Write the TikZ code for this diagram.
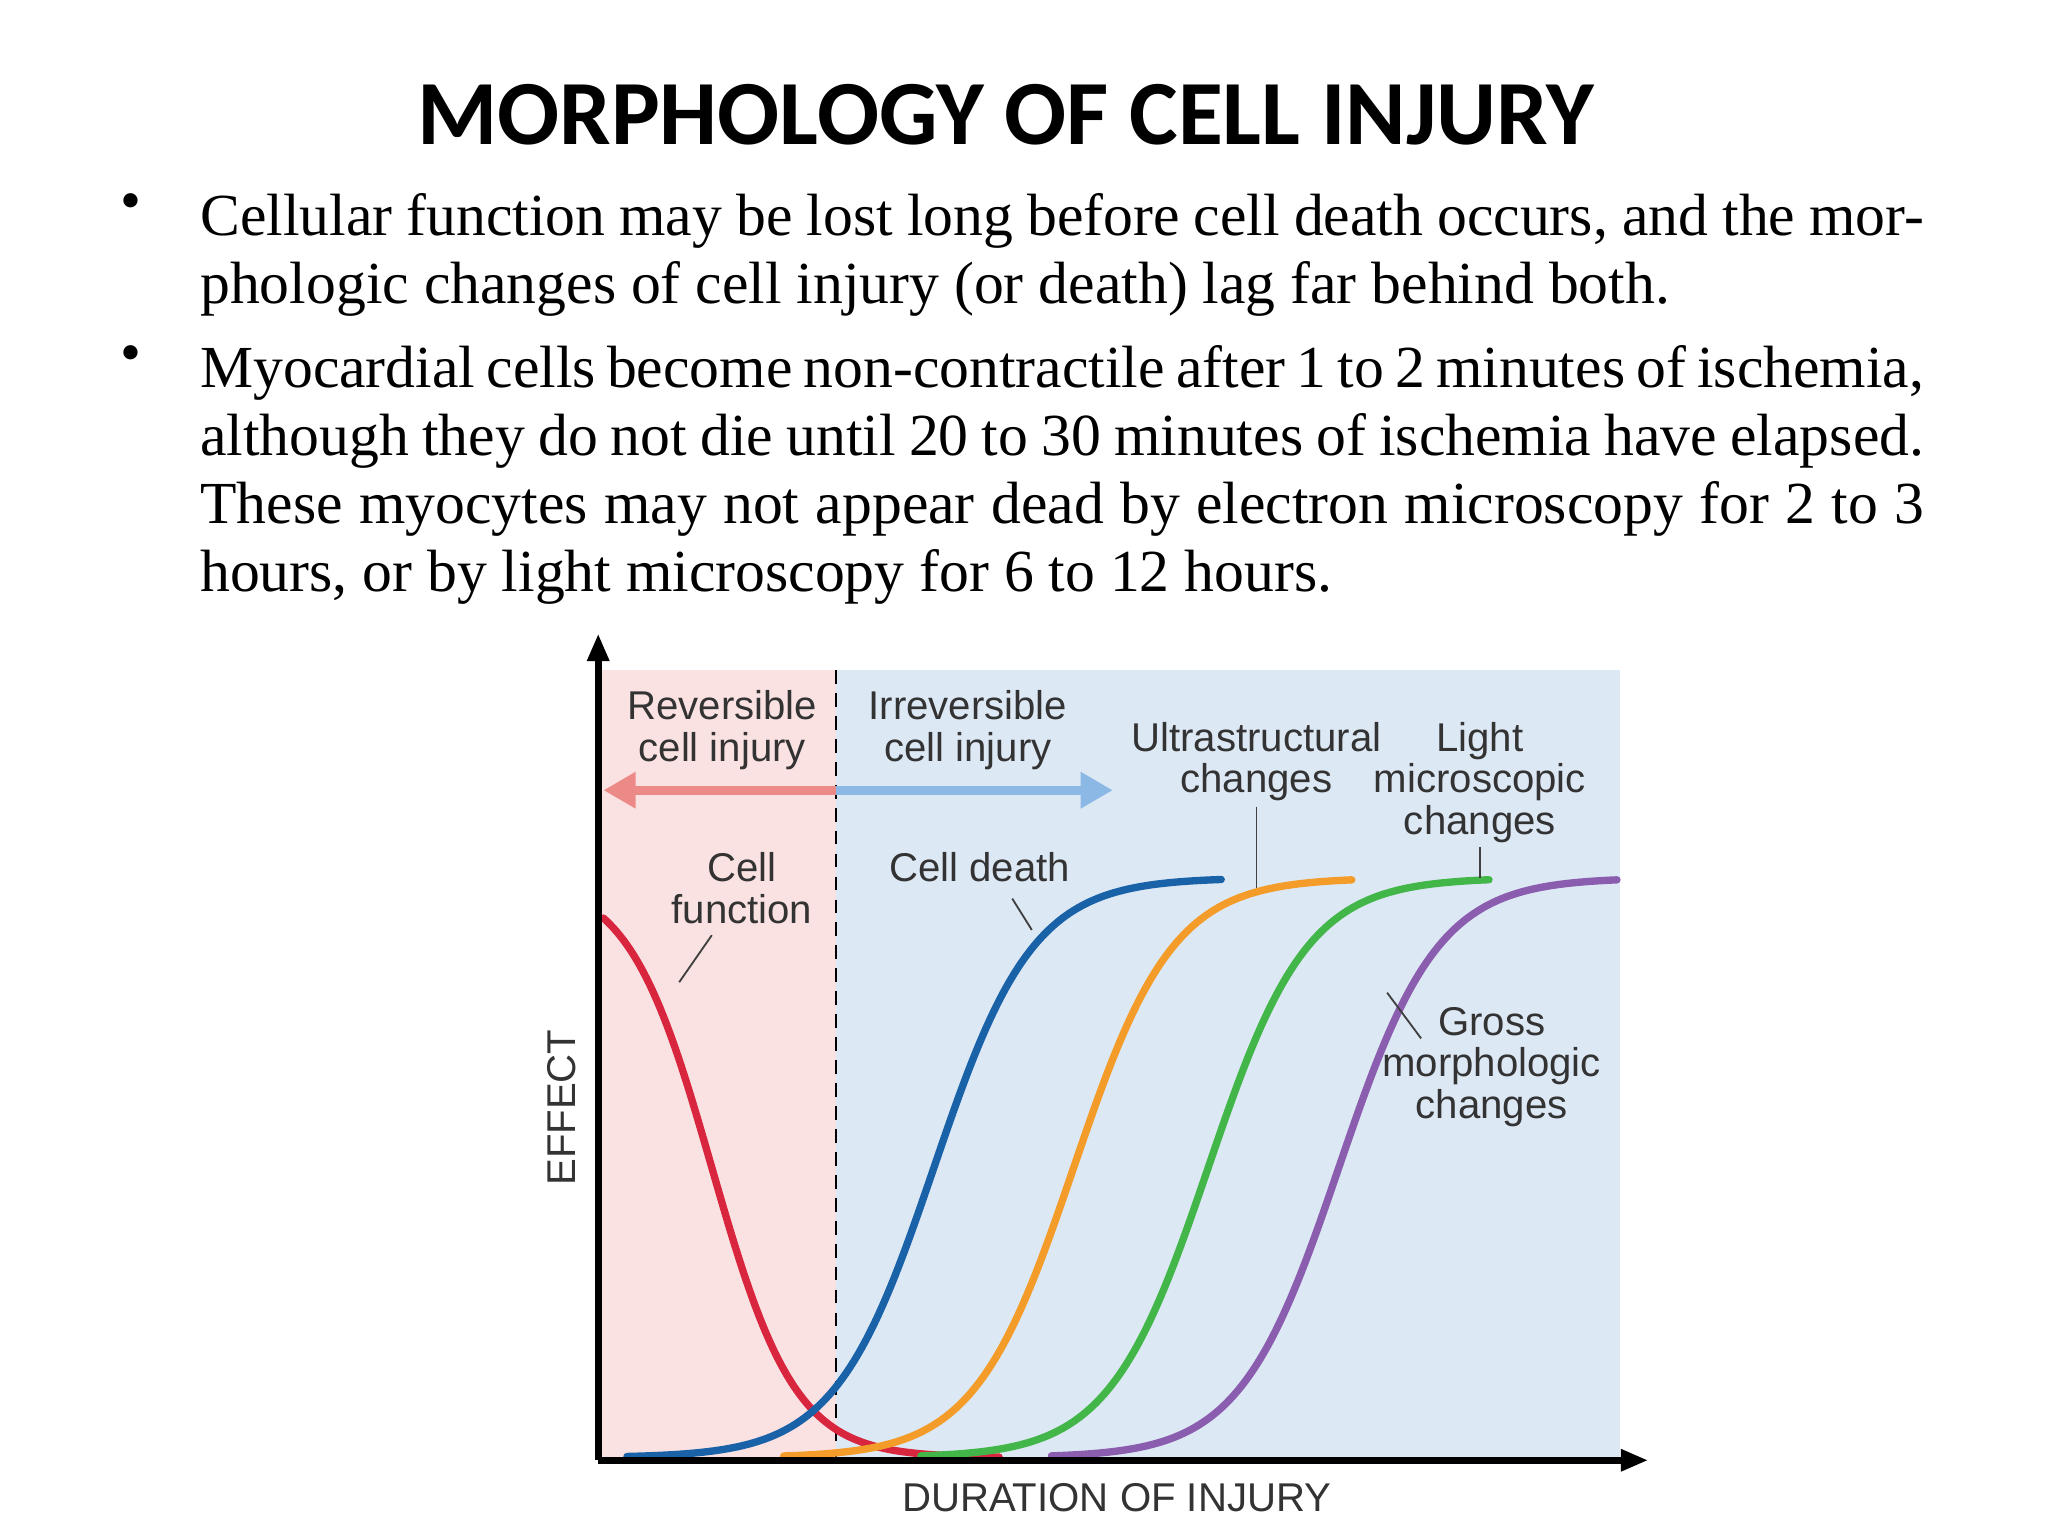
\documentclass[tikz,border=0pt]{standalone}
\usepackage{fontspec}
\setmainfont{Liberation Serif}
\newfontfamily\titlefont{Carlito}
\newfontfamily\lab{Liberation Sans}
\usetikzlibrary{arrows.meta}
\definecolor{cred}{HTML}{D8263F}
\definecolor{cblue}{HTML}{1A62A8}
\definecolor{corange}{HTML}{F49C2A}
\definecolor{cgreen}{HTML}{43B649}
\definecolor{cpurple}{HTML}{8B5DAE}
\definecolor{bgpink}{HTML}{FBE2E2}
\definecolor{bgblue}{HTML}{DDE8F5}
\definecolor{arred}{HTML}{EC8A88}
\definecolor{arblue}{HTML}{8BB8E4}
\tikzset{
 body/.style={anchor=north west,text width=26.4cm,align=justify,inner sep=0pt,font=\fontsize{26}{29.6}\selectfont},
 bul/.style={anchor=north west,inner sep=0pt,font=\fontsize{26}{29.6}\selectfont},
 lbl/.style={align=center,inner sep=0pt,text=black!80,font=\lab\fontsize{17.5}{18}\selectfont},
 curve/.style={line width=3.2pt,line cap=round},
 leader/.style={line width=0.8pt,black!75},
 fat/.style={line width=4pt,-{Triangle[length=14pt,width=15pt]}}
}
\begin{document}
\begin{tikzpicture}[x=0.02cm,y=-0.02cm]
\useasboundingbox (0,0) rectangle (1568,1176);
\fill[white] (0,0) rectangle (1568,1176);
\node[font=\titlefont\bfseries\fontsize{40}{44}\selectfont,inner sep=0pt] (title) at (770,88) {MORPHOLOGY OF CELL INJURY};
\node[bul] (b1) at (92,148) {\textbullet};
\node[body] (p1) at (153,148) {Cellular function may be lost long before cell death occurs, and the morphologic changes of cell injury (or death) lag far behind both.};
\node[bul] (b2) at (92,264) {\textbullet};
\node[body] (p2) at (153,264) {Myocardial cells become non-contractile after 1 to 2 minutes of ischemia, although they do not die until 20 to 30 minutes of ischemia have elapsed. These myocytes may not appear dead by electron microscopy for 2 to 3 hours, or by light microscopy for 6 to 12 hours.};
% backgrounds
\fill[bgpink] (458,513) rectangle (640,1118);
\fill[bgblue] (640,513) rectangle (1240,1118);
\draw[dashed,line width=1pt,dash pattern=on 6pt off 4pt] (640,513) -- (640,1118);
% curves
\draw[curve,cred] plot[domain=462:765,samples=120] ({\x},{672+444/(1+exp(-(\x-545)/32))});
\draw[curve,cblue] plot[domain=480:935,samples=150] ({\x},{1116-444/(1+exp(-(\x-715)/38))});
\draw[curve,corange] plot[domain=600:1035,samples=150] ({\x},{1116-444/(1+exp(-(\x-822)/38))});
\draw[curve,cgreen] plot[domain=705:1140,samples=150] ({\x},{1116-444/(1+exp(-(\x-925)/38))});
\draw[curve,cpurple] plot[domain=805:1238,samples=150] ({\x},{1116-444/(1+exp(-(\x-1025)/38))});
% axes
\coordinate (o) at (458,1118);
\coordinate (ytop) at (458,485);
\coordinate (xend) at (1262,1118);
\draw[line width=3pt,-{Triangle[length=12pt,width=9pt]}] (o) -- (ytop);
\draw[line width=3pt,-{Triangle[length=12pt,width=9pt]}] (o) -- (xend);
% arrows
\coordinate (mid) at (640,605);
\coordinate (lend) at (462,605);
\coordinate (rend) at (852,605);
\draw[fat,arred] (mid) -- (lend);
\draw[fat,arblue] (mid) -- (rend);
% labels
\node[lbl] (rev) at (553,559) {Reversible\\cell injury};
\node[lbl] (irr) at (741,559) {Irreversible\\cell injury};
\node[lbl] (ult) at (962,583) {Ultrastructural\\changes};
\node[lbl] (lig) at (1133,599) {Light\\microscopic\\changes};
\node[lbl] (cf) at (568,680) {Cell\\function};
\node[lbl] (cd) at (750,664) {Cell death};
\node[lbl] (gro) at (1142,817) {Gross\\morphologic\\changes};
\node[lbl,rotate=90] (eff) at (430,848) {EFFECT};
\node[lbl] (dur) at (855,1147) {DURATION OF INJURY};
% leaders
\coordinate (u2) at (962,680);
\coordinate (l2) at (1133,672);
\coordinate (c2) at (520,752);
\coordinate (d2) at (790,712);
\coordinate (g2) at (1062,760);
\draw[leader] (ult.south) ++(0,4) -- (u2);
\draw[leader] (lig.south) ++(0,3) -- (l2);
\draw[leader] (545,716) -- (c2);
\draw[leader] (775,688) -- (d2);
\draw[leader] (1088,795) -- (g2);
\end{tikzpicture}
\end{document}
